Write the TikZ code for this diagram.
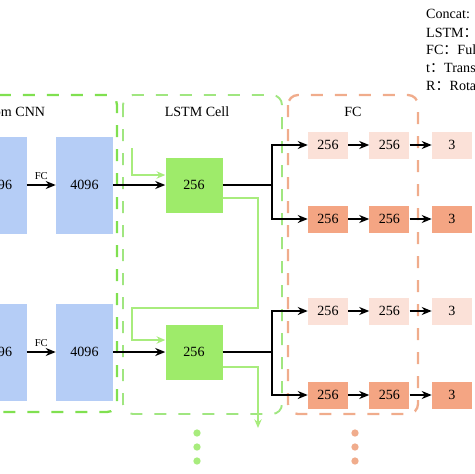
\documentclass[tikz,border=0pt,12pt]{standalone}
\usepackage{fontspec}
\setmainfont{Liberation Serif}
\newfontfamily\cjkfont{Noto Sans CJK SC}
\usepackage{tikz}
\usetikzlibrary{arrows.meta, positioning}
\definecolor{cnnblue}{RGB}{181,205,246}
\definecolor{cellgreen}{RGB}{158,235,106}
\definecolor{linkgreen}{RGB}{168,236,125}
\definecolor{cnnframe}{RGB}{128,224,80}
\definecolor{cellframe}{RGB}{160,230,128}
\definecolor{fclight}{RGB}{251,225,216}
\definecolor{fcdark}{RGB}{244,165,131}
\definecolor{fcframe}{RGB}{240,172,140}

\begin{document}
\begin{tikzpicture}[
    x=0.03cm, y=-0.03cm,
    cnn/.style={rectangle, fill=cnnblue, minimum width=1.71cm, minimum height=2.91cm, inner sep=0pt},
    cell/.style={rectangle, fill=cellgreen, minimum width=1.71cm, minimum height=1.65cm, inner sep=0pt},
    fcbox/.style={rectangle, minimum width=1.2cm, minimum height=0.81cm, inner sep=0pt},
    frame/.style={rounded corners=0.3cm, line width=2pt, dash pattern=on 0.36cm off 0.36cm},
    arrow/.style={-{Stealth[length=0.3cm, width=0.24cm]}, line width=1.4pt},
    link/.style={linkgreen, line width=1.6pt},
    linkarrow/.style={link, -{Stealth[length=0.26cm, width=0.22cm]}},
    dot/.style={circle, inner sep=0pt, minimum size=0.22cm},
    legend/.style={anchor=west, inner sep=0pt},
]
\useasboundingbox (0,0) rectangle (474,474);

% dashed frames
\draw[frame, cnnframe] (-30,95) rectangle (117,412);
\draw[frame, cellframe, line width=1.6pt] (123,95) rectangle (282,414);
\draw[frame, fcframe] (288,95) rectangle (418,414);

\node[anchor=east] (cnnlabel) at (50,112) {from CNN};
\node (celllabel) at (197,112) {LSTM Cell};
\node (fclabel) at (353,112) {FC};

\foreach \g/\y/\ya/\yb in {A/185/145/219, B/352/311/395} {
    \node[cnn] (cnn\g1) at (-2,\y) {4096};
    \node[cnn, right=0.87cm of cnn\g1] (cnn\g2) {4096};
    \draw[arrow] (cnn\g1) -- node[above, font=\fontsize{9}{10}\selectfont] {FC} (cnn\g2);

    \node[cell] (cell\g) at (194,\y) {256};
    \draw[arrow] (cnn\g2) -- (cell\g);

    \node[fcbox, fill=fclight] (trans\g1) at (328,\ya) {256};
    \node[fcbox, fill=fclight, right=0.63cm of trans\g1] (trans\g2) {256};
    \node[fcbox, fill=fclight, right=0.66cm of trans\g2] (trans\g3) {3};
    \node[fcbox, fill=fcdark] (rot\g1) at (328,\yb) {256};
    \node[fcbox, fill=fcdark, right=0.63cm of rot\g1] (rot\g2) {256};
    \node[fcbox, fill=fcdark, right=0.66cm of rot\g2] (rot\g3) {3};

    \coordinate (split\g) at (272,\y);
    \draw[line width=1.4pt] (cell\g) -- (split\g);
    \draw[arrow] (split\g) |- (trans\g1);
    \draw[arrow] (split\g) |- (rot\g1);
    \draw[arrow] (trans\g1) -- (trans\g2);
    \draw[arrow] (trans\g2) -- (trans\g3);
    \draw[arrow] (rot\g1) -- (rot\g2);
    \draw[arrow] (rot\g2) -- (rot\g3);
}

% hidden state passed between cells
\coordinate (feedA) at (132,148);
\coordinate (nextB) at (258,428);
\draw[linkarrow] (feedA) |- ([yshift=0.3cm]cellA.west);
\draw[linkarrow] ([yshift=-0.39cm]cellA.east) -| (258,308) -| (132,340) -- ([yshift=0.36cm]cellB.west);
\draw[linkarrow] ([yshift=-0.45cm]cellB.east) -| (nextB);

\foreach \k/\yy in {1/433, 2/447, 3/461} {
    \node[dot, fill=linkgreen] (celldot\k) at (197,\yy) {};
    \node[dot, fill=fcframe] (fcdot\k) at (355,\yy) {};
}

\node[legend] (lgconcat) at (426,14) {Concat:};
\node[legend] (lglstm) at (426,33) {LSTM{\cjkfont ：}};
\node[legend] (lgfc) at (426,51) {FC{\cjkfont ：}Fully};
\node[legend] (lgtrans) at (426,68) {t{\cjkfont ：}Translation};
\node[legend] (lgrot) at (426,86) {R{\cjkfont ：}Rotation};

\end{tikzpicture}
\end{document}
